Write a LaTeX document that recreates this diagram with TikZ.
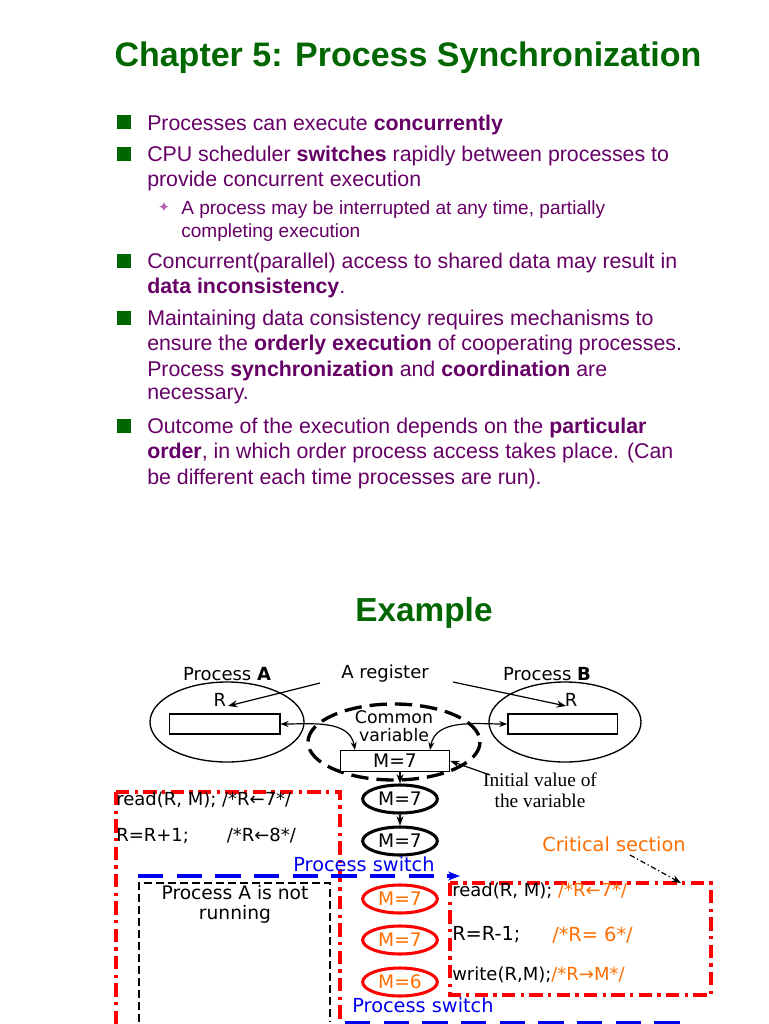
\documentclass[tikz,border=0pt]{standalone}
\usepackage{fontspec}
\setmainfont{Liberation Sans}
\newfontfamily\dv{DejaVu Sans}
\newfontfamily\serif{Liberation Serif}
\usetikzlibrary{arrows.meta,shapes.geometric}
\definecolor{tgreen}{RGB}{0,102,0}
\definecolor{tpurple}{RGB}{102,0,102}
\definecolor{torange}{RGB}{255,110,0}
\definecolor{tblue}{RGB}{0,0,240}
\begin{document}
\begin{tikzpicture}[x=0.75pt,y=-0.75pt,
  body/.style={anchor=west,inner sep=0,text=tpurple,font=\fontsize{16}{19}\selectfont},
  sub/.style={anchor=west,inner sep=0,text=tpurple,font=\fontsize{14.3}{17}\selectfont},
  bul/.style={fill=tgreen,minimum size=11pt,inner sep=0},
  dg/.style={font=\dv\fontsize{13.5}{14}\selectfont,inner sep=0},
  mell/.style={ellipse,draw,line width=2.3pt,minimum width=56pt,minimum height=21pt,inner sep=0,font=\dv\fontsize{14}{14}\selectfont},
  rdash/.style={draw=red,line width=2.4pt,dash pattern=on 10pt off 4pt on 2.5pt off 4pt},
  arr/.style={-{Stealth[length=7pt]},line width=0.9pt}]
\useasboundingbox (0,0) rectangle (768,1024);
\node[font=\bfseries\fontsize{25.5}{28}\selectfont,text=tgreen] (title) at (408,58) {Chapter 5: Process Synchronization};
\foreach \y in {122,154,261,318,426}{\node[bul] at (124,\y) {};}
\node[text=violet!60,font=\dv\fontsize{11}{11}\selectfont] (star) at (164,207) {✦};
\node[body] (l1) at (147,125) {Processes can execute \textbf{concurrently}};
\node[body] (l2) at (147,156) {CPU scheduler \textbf{switches} rapidly between processes to};
\node[body] (l3) at (147,181) {provide concurrent execution};
\node[sub] (s1) at (181,210) {A process may be interrupted at any time, partially};
\node[sub] (s2) at (181,233) {completing execution};
\node[body] (l4) at (147,263) {Concurrent(parallel) access to shared data may result in};
\node[body] (l5) at (147,288) {\textbf{data inconsistency}.};
\node[body] (l6) at (147,320) {Maintaining data consistency requires mechanisms to};
\node[body] (l7) at (147,345) {ensure the \textbf{orderly execution} of cooperating processes.};
\node[body] (l8) at (147,371) {Process \textbf{synchronization} and \textbf{coordination} are};
\node[body] (l9) at (147,396) {necessary.};
\node[body] (l10) at (147,428) {Outcome of the execution depends on the \textbf{particular}};
\node[body] (l11) at (147,453) {\textbf{order}, in which order process access takes place. (Can};
\node[body] (l12) at (147,479) {be different each time processes are run).};
\node[font=\bfseries\fontsize{25}{28}\selectfont,text=tgreen] (ex) at (424,613) {Example};
% top diagram
\node[dg] (pa) at (227,674) {Process \textbf{A}};
\node[dg] (reg) at (385,674) {A register};
\node[dg] (pb) at (547,674) {Process \textbf{B}};
\draw[line width=1pt] (227,722) ellipse [x radius=77, y radius=40];
\draw[line width=1pt] (565,722) ellipse [x radius=76, y radius=40];
\node[draw,line width=1pt,minimum width=83pt,minimum height=15pt,inner sep=0] (ra) at (224.5,724) {};
\node[draw,line width=1pt,minimum width=82pt,minimum height=15pt,inner sep=0] (rb) at (562.5,724) {};
\node[dg] (Ra) at (220,700) {R};
\node[dg] (Rb) at (571,700) {R};
\draw[line width=2.5pt,dash pattern=on 13pt off 6pt] (394,742) ellipse [x radius=86, y radius=38];
\node[dg,align=center,font=\dv\fontsize{13}{13.5}\selectfont] (cv) at (394,726) {Common\\variable};
\node[draw,line width=1pt,fill=white,minimum width=82pt,minimum height=16pt,inner sep=0,font=\dv\fontsize{14}{14}\selectfont] (m0) at (395,761) {M=7};
\coordinate (rega) at (320,683); \coordinate (regb) at (453,682);
\draw[arr] (rega) -- (228,706);
\draw[arr] (regb) -- (566,706);
\draw[{Stealth[length=6pt]}-{Stealth[length=6pt]},line width=0.9pt] (ra.east) to[out=0,in=100] (355,750);
\draw[{Stealth[length=6pt]}-{Stealth[length=6pt]},line width=0.9pt] (rb.west) to[out=180,in=80] (430,750);
\node[font=\serif\fontsize{14.5}{16}\selectfont,align=center,inner sep=0] (iv) at (540,790) {Initial value of\\the variable};
\draw[arr] (490,775) -- (m0.east);
\node[mell] (e1) at (400,799) {M=7};
\node[mell] (e2) at (400,841) {M=7};
\draw[arr] (m0.south -| e1) -- (e1);
\draw[arr] (e1) -- (e2);
% left red box
\draw[rdash] (116,792) -- (340,792) -- (340,1030);
\draw[rdash] (116,792) -- (116,1030);
\node[dg,anchor=west] (ta1) at (116,800) {read(R, M); /*R←7*/};
\node[dg,anchor=west] (ta2) at (116,836) {R=R+1;\hspace{2.1em}/*R←8*/};
\node[dg,text=tblue,font=\dv\fontsize{14.5}{14}\selectfont] (ps1) at (364,864) {Process switch};
\coordinate (s1a) at (138,876); \coordinate (s1b) at (460,876);
\draw[tblue,line width=3pt,dash pattern=on 19pt off 10pt,-{Stealth[length=9pt]}] (s1a) -- (s1b);
\draw[line width=2pt,dash pattern=on 6pt off 3pt] (139,1022) |- (330,883) -- (330,1022);
\node[dg,align=center,font=\dv\fontsize{14}{15}\selectfont] (pan) at (235,904) {Process A is not\\running};
\begin{scope}[every node/.append style={draw=red,text=torange}]
\node[mell] (e3) at (400,899) {M=7};
\node[mell] (e4) at (400,940) {M=7};
\node[mell] (e5) at (400,982) {M=6};
\end{scope}
\draw[rdash] (450,883) rectangle (711,995);
\node[dg,anchor=west] (tb1) at (452,891) {read(R, M); \textcolor{torange}{/*R←7*/}};
\node[dg,anchor=west,font=\dv\fontsize{14.5}{14}\selectfont] (tb2) at (452,935) {R=R-1;};
\node[dg,anchor=west,text=torange,font=\dv\fontsize{14.5}{14}\selectfont] (tb2c) at (552,935) {/*R= 6*/};
\node[dg,anchor=west] (tb3) at (452,975) {write(R,M);\textcolor{torange}{/*R→M*/}};
\node[dg,text=torange,font=\dv\fontsize{14.5}{14}\selectfont] (cs) at (614,844) {Critical section};
\coordinate (csa) at (630,855); \coordinate (csb) at (681,883);
\draw[line width=0.9pt,dash pattern=on 4pt off 2pt on 1pt off 2pt,-{Stealth[length=7pt]}] (csa) -- (csb);
\node[dg,text=tblue,font=\dv\fontsize{14.5}{14}\selectfont] (ps2) at (423,1005) {Process switch};
\coordinate (s2a) at (345,1023); \coordinate (s2b) at (690,1023);
\draw[tblue,line width=3pt,dash pattern=on 19pt off 10pt] (s2a) -- (s2b);
\end{tikzpicture}
\end{document}
